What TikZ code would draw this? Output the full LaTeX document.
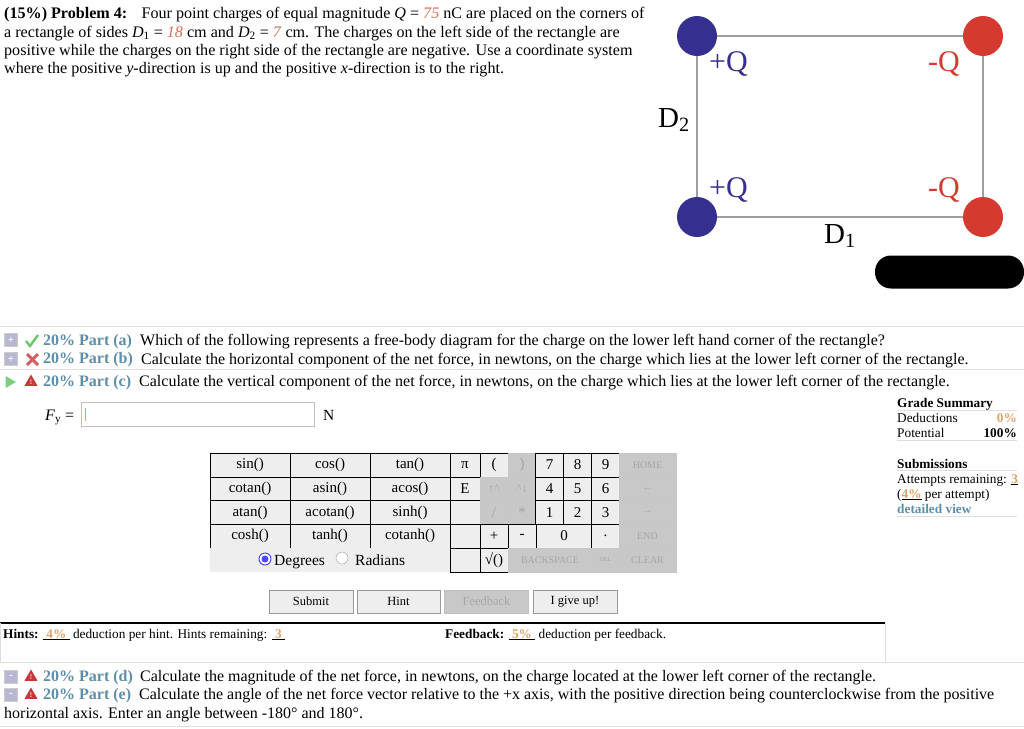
\documentclass[tikz,border=0pt]{standalone}
\usepackage{fontspec}
\setmainfont{Liberation Serif}
\usetikzlibrary{shapes}
\usetikzlibrary{positioning}
\definecolor{chargeblue}{HTML}{35308F}
\definecolor{chargered}{HTML}{D43A2F}
\definecolor{partblue}{HTML}{5F8FA8}
\definecolor{valred}{HTML}{D0705A}
\definecolor{valorange}{HTML}{E0A468}
\definecolor{keygray}{HTML}{EEEEEE}
\definecolor{offgray}{HTML}{C8C8C8}
\tikzset{
    bodytext/.style = {anchor=base west,inner sep=0pt,font=\fontsize{16.1}{18}\selectfont},
    parttext/.style = {anchor=base west,inner sep=0pt,font=\fontsize{16}{18}\selectfont},
    partlabel/.style = {anchor=base west,inner sep=0pt,text=partblue,font=\fontsize{16}{18}\selectfont\bfseries},
    smalltext/.style = {anchor=base west,inner sep=0pt,font=\fontsize{13.3}{15}\selectfont},
    smallright/.style = {anchor=base east,inner sep=0pt,font=\fontsize{13.3}{15}\selectfont\bfseries},
    bigblue/.style = {anchor=base west,inner sep=0pt,text=chargeblue,font=\fontsize{30}{32}\selectfont},
    bigred/.style = {anchor=base west,inner sep=0pt,text=chargered,font=\fontsize{30}{32}\selectfont},
    biglabel/.style = {anchor=base west,inner sep=0pt,font=\fontsize{29}{32}\selectfont},
    poscharge/.style = {circle,fill=chargeblue,minimum size=40pt,inner sep=0pt},
    negcharge/.style = {circle,fill=chargered,minimum size=40pt,inner sep=0pt},
    sideline/.style = {draw=gray!75,line width=1.5pt},
    rulelight/.style = {draw=gray!25,line width=0.8pt},
    funckey/.style = {rectangle,draw=black,line width=0.7pt,fill=keygray,minimum width=80pt,minimum height=24pt,inner sep=0pt,font=\fontsize{15}{16}\selectfont},
    numkey/.style = {rectangle,draw=black,line width=0.7pt,fill=keygray,minimum width=28pt,minimum height=24pt,inner sep=0pt,font=\fontsize{15}{16}\selectfont},
    offkey/.style = {rectangle,draw=gray!45,line width=0.5pt,fill=offgray,minimum width=28pt,minimum height=24pt,inner sep=0pt,text=gray!70,font=\fontsize{15}{16}\selectfont},
    offword/.style = {offkey,minimum width=57pt,font=\fontsize{10}{12}\selectfont},
    button/.style = {rectangle,draw=gray!80,line width=0.7pt,fill=keygray,minimum width=84pt,minimum height=23pt,inner sep=0pt,font=\fontsize{12.5}{14}\selectfont},
    expandbox/.style = {rectangle,draw=gray!40,fill=blue!25!gray!45,minimum size=13pt,inner sep=0pt,font=\fontsize{11}{11}\selectfont\bfseries,text=white},
    warnicon/.style = {regular polygon,regular polygon sides=3,fill=red!55!gray,inner sep=0pt,minimum size=15pt,text=white,font=\fontsize{7}{7}\selectfont\bfseries},
    radiobtn/.style = {circle,draw=gray!80,fill=white,minimum size=12pt,inner sep=0pt},
}
\begin{document}
\begin{tikzpicture}[x=1pt,y=-1pt]
\useasboundingbox[fill=white] (0,0) rectangle (1024,728);
%
% problem statement
\node[bodytext] (prob1) at (4,18) {\textbf{(15\%) Problem 4:}\hspace{9pt} Four point charges of equal magnitude \textit{Q} = \textcolor{valred}{\textit{75}} nC are placed on the corners of};
\node[bodytext] (prob2) at (4,37) {a rectangle of sides \textit{D}\textsubscript{1} = \textcolor{valred}{\textit{18}} cm and \textit{D}\textsubscript{2} = \textcolor{valred}{\textit{7}} cm. The charges on the left side of the rectangle are};
\node[bodytext] (prob3) at (4,55) {positive while the charges on the right side of the rectangle are negative. Use a coordinate system};
\node[bodytext] (prob4) at (4,73) {where the positive \textit{y}-direction is up and the positive \textit{x}-direction is to the right.};
%
% charges
\node[poscharge] at (697,36) (ul) {};
\node[negcharge] at (983,36) (ur) {};
\node[poscharge] at (697,217) (ll) {};
\node[negcharge] at (983,217) (lr) {};
\draw[sideline] (ul) -- (ur);
\draw[sideline] (ur) -- (lr);
\draw[sideline] (lr) -- (ll);
\draw[sideline] (ll) -- (ul);
\node[bigblue] at (709,71) (qul) {+Q};
\node[bigred] at (928,71) (qur) {-Q};
\node[bigblue] at (709,197) (qll) {+Q};
\node[bigred] at (928,197) (qlr) {-Q};
\node[biglabel] at (658,127) (dtwo) {D\textsubscript{2}};
\node[biglabel] at (824,243) (done) {D\textsubscript{1}};
\node[rectangle,rounded corners=16pt,fill=black,minimum width=149pt,minimum height=33pt,inner sep=0pt] at (949.5,272) (blob) {};
%
% parts
\draw[rulelight] (0,326) -- (1024,326);
\draw[rulelight] (0,369) -- (1024,369);
\node[expandbox] at (11,340) (expa) {+};
\node[expandbox] at (11,359) (expb) {+};
\draw[green!45!gray!80,line width=2.4pt] (26,341) -- (30,346) -- (38,335);
\draw[red!55!gray!80,line width=3pt] (27,354) -- (38,365);
\draw[red!55!gray!80,line width=3pt] (27,365) -- (38,354);
\node[partlabel] at (43,345) (parta) {20\% Part (a)};
\node[parttext] at (140,345) (texta) {Which of the following represents a free-body diagram for the charge on the lower left hand corner of the rectangle?};
\node[partlabel] at (43,363) (partb) {20\% Part (b)};
\node[parttext] at (141,364) (textb) {Calculate the horizontal component of the net force, in newtons, on the charge which lies at the lower left corner of the rectangle.};
\node[regular polygon,regular polygon sides=3,rotate=-90,fill=green!45!gray!70,inner sep=0pt,minimum size=14pt] at (9,382) (playc) {};
\node[warnicon] at (31,382) (warnc) {!};
\node[partlabel] at (43,386) (partc) {20\% Part (c)};
\node[parttext] at (139,386) (textc) {Calculate the vertical component of the net force, in newtons, on the charge which lies at the lower left corner of the rectangle.};
%
% answer box
\node[anchor=base west,inner sep=0pt,font=\fontsize{16}{18}\selectfont] at (45,420) (fy) {\textit{F}\textsubscript{y} =};
\node[rectangle,draw=gray!50,line width=0.7pt,minimum width=233pt,minimum height=24pt,inner sep=0pt] at (197.5,414) (ansbox) {};
\draw[valorange,line width=0.6pt] (85.5,408) -- (85.5,421);
\node[anchor=base west,inner sep=0pt,font=\fontsize{15.5}{18}\selectfont] at (323,420) (unit) {N};
%
% grade summary
\node[smalltext,font=\fontsize{13.3}{15}\selectfont\bfseries] at (897,407) (gradehead) {Grade Summary};
\draw[rulelight] (897,410) -- (1017,410);
\node[smalltext] at (897,422) (deduct) {Deductions};
\node[smallright,text=valorange] at (1017,422) (deductval) {0\%};
\node[smalltext] at (897,437) (potent) {Potential};
\node[smallright] at (1017,437) (potentval) {100\%};
\draw[rulelight] (897,440) -- (1017,440);
\node[smalltext,font=\fontsize{13.3}{15}\selectfont\bfseries] at (897,468) (subhead) {Submissions};
\draw[rulelight] (897,470) -- (1017,470);
\node[smalltext] at (897,483) (attempts) {Attempts remaining: \underline{\textcolor{valorange}{\textbf{3}}}};
\node[smalltext] at (897,498) (perattempt) {(\underline{\textcolor{valorange}{\textbf{4\%}}} per attempt)};
\node[smalltext,text=partblue,font=\fontsize{13.3}{15}\selectfont\bfseries] at (897,513) (detail) {detailed view};
\draw[rulelight] (897,516) -- (1017,516);
%
% function keys
\node[funckey] at (250,465) (ksin) {sin()};
\node[funckey] at (330,465) (kcos) {cos()};
\node[funckey] at (410,465) (ktan) {tan()};
\node[funckey] at (250,489) (kcotan) {cotan()};
\node[funckey] at (330,489) (kasin) {asin()};
\node[funckey] at (410,489) (kacos) {acos()};
\node[funckey] at (250,512.5) (katan) {atan()};
\node[funckey] at (330,512.5) (kacotan) {acotan()};
\node[funckey] at (410,512.5) (ksinh) {sinh()};
\node[funckey] at (250,536) (kcosh) {cosh()};
\node[funckey] at (330,536) (ktanh) {tanh()};
\node[funckey] at (410,536) (kcotanh) {cotanh()};
\node[rectangle,fill=keygray,minimum width=240pt,minimum height=24pt,inner sep=0pt] at (330,560) (degband) {};
\node[radiobtn,draw=blue!70,line width=1pt] at (265,559) (raddeg) {};
\node[circle,fill=blue!70,minimum size=7pt,inner sep=0pt] at (raddeg.center) (raddot) {};
\node[anchor=base west,inner sep=0pt,font=\fontsize{15.5}{17}\selectfont] at (274,565) (degrees) {Degrees};
\node[radiobtn] at (342,558) (radrad) {};
\node[anchor=base west,inner sep=0pt,font=\fontsize{15.5}{17}\selectfont] at (355,565) (radians) {Radians};
%
% keypad
\node[numkey,minimum width=30pt] at (465,465) (kpi) {π};
\node[numkey] at (494,465) (klp) {(};
\node[offkey] at (522,465) (krp) {)};
\node[numkey] at (549.5,465) (kseven) {7};
\node[numkey] at (577.5,465) (keight) {8};
\node[numkey] at (605.5,465) (knine) {9};
\node[offword] at (647.5,465) (khome) {HOME};
\node[numkey,minimum width=30pt] at (465,489) (ke) {E};
\node[offkey] at (494,489) (kup) {\fontsize{12}{12}\selectfont↑\^{}};
\node[offkey] at (522,489) (kdown) {\fontsize{12}{12}\selectfont\^{}↓};
\node[numkey] at (549.5,489) (kfour) {4};
\node[numkey] at (577.5,489) (kfive) {5};
\node[numkey] at (605.5,489) (ksix) {6};
\node[offword] at (647.5,489) (kleft) {←};
\node[numkey,minimum width=30pt] at (465,512.5) (kblanka) {};
\node[offkey] at (494,512.5) (kslash) {/};
\node[offkey] at (522,512.5) (kstar) {*};
\node[numkey] at (549.5,512.5) (kone) {1};
\node[numkey] at (577.5,512.5) (ktwo) {2};
\node[numkey] at (605.5,512.5) (kthree) {3};
\node[offword] at (647.5,512.5) (kright) {→};
\node[numkey,minimum width=30pt] at (465,536) (kblankb) {};
\node[numkey] at (494,536) (kplus) {+};
\node[numkey] at (522,536) (kminus) {-};
\node[numkey,minimum width=56pt] at (564,536) (kzero) {0};
\node[numkey] at (605.5,536) (kdot) {.};
\node[offword] at (647.5,536) (kend) {END};
\node[numkey,minimum width=30pt] at (465,560) (kblankc) {};
\node[numkey] at (494,560) (ksqrt) {√()};
\node[offword,minimum width=84pt] at (550,560) (kback) {BACKSPACE};
\node[offword,minimum width=27pt,font=\fontsize{6}{8}\selectfont] at (605.5,560) (kdel) {DEL};
\node[offword] at (647.5,560) (kclear) {CLEAR};
%
% buttons
\node[button] at (311,601.5) (bsubmit) {Submit};
\node[button,minimum width=83pt] at (398.5,601.5) (bhint) {Hint};
\node[button,fill=offgray,draw=gray!50,text=gray!70] at (486.5,601.5) (bfeed) {Feedback};
\node[button] at (575,601.5) (bgive) {I give up!};
%
% hints
\draw[black,line width=1.3pt] (0,623) -- (885,623);
\draw[rulelight] (885,623) -- (885,662);
\draw[rulelight] (0.5,623) -- (0.5,662);
\node[smalltext] at (3,638) (hints) {\textbf{Hints:} \underline{\textcolor{valorange}{\ \textbf{4\%}\ }} deduction per hint. Hints remaining: \underline{\textcolor{valorange}{\ \textbf{3}\ }}};
\node[smalltext] at (445,638) (feedback) {\textbf{Feedback:} \underline{\textcolor{valorange}{\ \textbf{5\%}\ }} deduction per feedback.};
\draw[rulelight] (0,662) -- (1024,662);
%
% remaining parts
\node[expandbox] at (11,677) (expd) {-};
\node[warnicon] at (31,677) (warnd) {!};
\node[partlabel] at (43,681) (partd) {20\% Part (d)};
\node[parttext] at (140,681) (textd) {Calculate the magnitude of the net force, in newtons, on the charge located at the lower left corner of the rectangle.};
\node[expandbox] at (11,695) (expe) {-};
\node[warnicon] at (31,695) (warne) {!};
\node[partlabel] at (43,699) (parte) {20\% Part (e)};
\node[parttext] at (139,699) (texte) {Calculate the angle of the net force vector relative to the +x axis, with the positive direction being counterclockwise from the positive};
\node[parttext] at (4,718) (textf) {horizontal axis. Enter an angle between -180° and 180°.};
\draw[rulelight] (0,726) -- (1024,726);
\end{tikzpicture}
\end{document}
